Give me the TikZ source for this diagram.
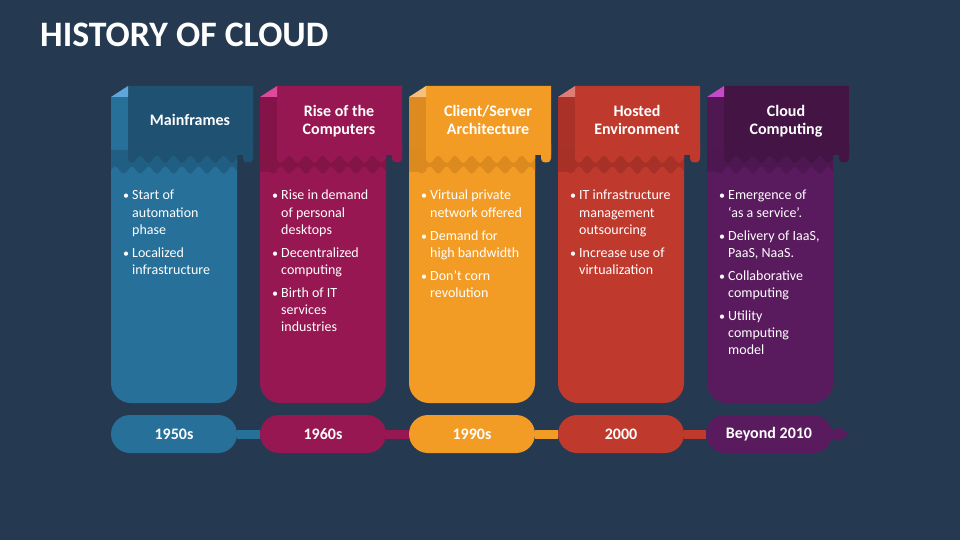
\documentclass[tikz,border=0pt]{standalone}
\usepackage{fontspec}
\setmainfont{Carlito}
\definecolor{bg}{HTML}{253A51}
% blue
\definecolor{bodyb}{HTML}{27709A}\definecolor{banb}{HTML}{1F5172}\definecolor{stripb}{HTML}{27709A}\definecolor{trib}{HTML}{5EA8D9}\definecolor{shadb}{HTML}{215E84}
% pink
\definecolor{bodyp}{HTML}{961751}\definecolor{banp}{HTML}{961751}\definecolor{stripp}{HTML}{84134A}\definecolor{trip}{HTML}{E1489B}\definecolor{shadp}{HTML}{821446}
% orange
\definecolor{bodyo}{HTML}{F29C26}\definecolor{bano}{HTML}{F29C26}\definecolor{stripo}{HTML}{DD8A20}\definecolor{trio}{HTML}{F6C07C}\definecolor{shado}{HTML}{DC8A20}
% red
\definecolor{bodyr}{HTML}{C0392D}\definecolor{banr}{HTML}{C0392D}\definecolor{stripr}{HTML}{A93127}\definecolor{trir}{HTML}{DE7C76}\definecolor{shadr}{HTML}{A83127}
% purple
\definecolor{bodyu}{HTML}{5A1A5E}\definecolor{banu}{HTML}{441445}\definecolor{stripu}{HTML}{4F1853}\definecolor{triu}{HTML}{C848CC}\definecolor{shadu}{HTML}{4D1751}
\tikzset{
  btxt/.style={anchor=base west, inner sep=0pt, text=white, font=\fontsize{14}{17}\selectfont},
  bdot/.style={anchor=base west, inner sep=0pt, text=white, font=\fontsize{12}{17}\selectfont},
  htxt/.style={anchor=base, inner sep=0pt, text=white, font=\bfseries\fontsize{16}{18}\selectfont},
  pill/.style={rounded corners=19pt, minimum width=126pt, minimum height=38pt, inner sep=0pt, text=white, font=\bfseries\fontsize{16}{18}\selectfont},
  link/.style={line width=9pt}
}
\newcommand\bitem[3]{%
  \node[bdot] (d-#1-#2) at (#1+12,#2) {•};
  \foreach \ln [count=\i from 0] in {#3} {\node[btxt] (t-#1-#2-\i) at (#1+21,#2+17*\i) {\ln};}
}
\newcommand\hdrtwo[3]{%
  \node[htxt] (h-#1-a) at (#1+79,116.5) {#2};
  \node[htxt] (h-#1-b) at (#1+79,134.5) {#3};
}
\begin{document}
\begin{tikzpicture}[x=1pt,y=-1pt]
\useasboundingbox (0,0) rectangle (960,540);
\fill[bg] (0,0) rectangle (960,540);
\node[anchor=base west, inner sep=0pt, text=white, font=\bfseries\fontsize{35.8}{40}\selectfont] (title) at (40,47) {HISTORY OF CLOUD};
\foreach \x/\c in {111/b,260/p,409/o,558/r,707/u}{
  \pgfmathsetmacro\xa{\x+17}
  \pgfmathsetmacro\xb{\x+126}
  \fill[body\c, rounded corners=20pt] (\x,97) rectangle (\x+126,403);
  \fill[strip\c] (\x,97) rectangle (\x+17,172);
  \fill[shad\c] (\x,150) -- plot[domain=\x:\xb, samples=100, variable=\t] (\t,{170-3.5*sin(21.56*(\t-\x))}) -- (\x+126,150) -- cycle;
  \fill[ban\c] (\x+17,86) -- plot[domain=\xa:\xb, samples=100, variable=\t] (\t,{159.3+3.5*sin(21.56*(\t-\x))}) -- (\x+126,155) -- (\x+142,155) -- (\x+142,86) -- cycle;
  \fill[ban\c, rounded corners=4pt] (\x+132,140) rectangle (\x+142,162.5);
  \fill[tri\c] (\x,97) -- (\x+17,86) -- (\x+17,97) -- cycle;
}
% headers
\node[htxt] (h-111) at (111+79,126) {Mainframes};
\hdrtwo{260}{Rise of the}{Computers}
\hdrtwo{409}{Client/Server}{Architecture}
\hdrtwo{558}{Hosted}{Environment}
\hdrtwo{707}{Cloud}{Computing}
% bullets
\bitem{111}{200}{Start of,automation,phase}
\bitem{111}{257}{Localized,infrastructure}
\bitem{260}{200}{Rise in demand,of personal,desktops}
\bitem{260}{257}{Decentralized,computing}
\bitem{260}{297}{Birth of IT,services,industries}
\bitem{409}{200}{Virtual private,network offered}
\bitem{409}{240}{Demand for,high bandwidth}
\bitem{409}{280}{Don’t corn,revolution}
\bitem{558}{200}{IT infrastructure,management,outsourcing}
\bitem{558}{257}{Increase use of,virtualization}
\bitem{707}{200}{Emergence of,‘as a service’.}
\bitem{707}{240}{{Delivery of IaaS,},{PaaS, NaaS.}}
\bitem{707}{280}{Collaborative,computing}
\bitem{707}{320}{Utility,computing,model}
% timeline
\node[pill, fill=bodyb] (p1) at (174,434) {1950s};
\node[pill, fill=bodyp] (p2) at (323,434) {1960s};
\node[pill, fill=bodyo] (p3) at (472,434) {1990s};
\node[pill, fill=bodyr] (p4) at (621,434) {2000};
\node[pill, fill=bodyu] (p5) at (769,434) {Beyond 2010};
\coordinate (ae) at (837,434);
\draw[link, bodyb] (p1.east) -- (p2.west);
\draw[link, bodyp] (p2.east) -- (p3.west);
\draw[link, bodyo] (p3.east) -- (p4.west);
\draw[link, bodyr] (p4.east) -- (p5.west);
\draw[link, bodyu] (p5.east) -- (ae);
\fill[bodyu] (ae) ++(0,-8) -- ++(12,8) -- ++(-12,8) -- cycle;
\end{tikzpicture}
\end{document}
